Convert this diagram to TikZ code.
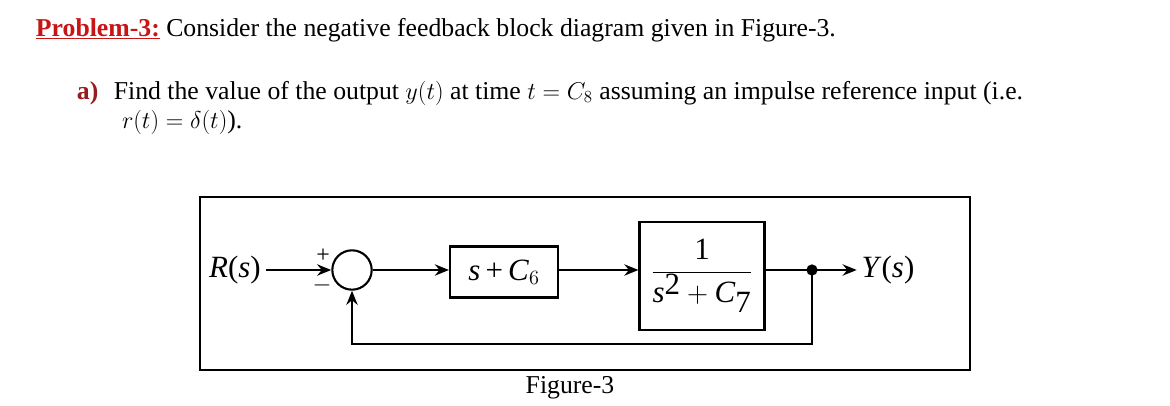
\documentclass[tikz,border=0pt]{standalone}
\usepackage{fontspec}
\setmainfont{Liberation Serif}
\usetikzlibrary{arrows.meta}
\definecolor{probred}{RGB}{200,20,20}
\definecolor{darkred}{RGB}{150,30,30}
\newcommand{\iv}[1]{\textit{#1}}
\begin{document}
\begin{tikzpicture}[x=0.025cm,y=-0.025cm,
  blk/.style={draw,line width=1.5pt,minimum width=#1},
  sig/.style={line width=2pt,-{Stealth[length=10pt,width=8pt]}},
  lab/.style={font=\fontsize{22}{24}\selectfont},
  txt/.style={font=\fontsize{18.3}{21}\selectfont,anchor=west}]
\useasboundingbox (0,0) rectangle (1170,406);
% text
\node[txt] (title) at (31,30) {\textcolor{probred}{\textbf{\underline{Problem-3:}}} Consider the negative feedback block diagram given in Figure-3.};
\node[txt,anchor=north west,text width=25.7cm,align=justify] (qa) at (72,76)
  {\textcolor{darkred}{\textbf{a)}}\hspace{0.6em}Find the value of the output $y(t)$ at time $t=C_8$ assuming an impulse reference input (i.e.\\ \hspace*{1.75em}$r(t)=\delta(t)$).};
% frame
\draw[line width=1.8pt] (200,197) rectangle (970,370);
% blocks
\node[lab] (R) at (235,270) {\iv{R}(\iv{s})};
\node[draw,circle,line width=1.5pt,minimum size=28pt,inner sep=0] (sum) at (352,270) {};
\node[blk=108*0.025cm,minimum height=51*0.025cm,lab] (G1) at (504,272) {\iv{s}\,+\,\iv{C}$_6$};
\node[blk=125*0.025cm,minimum height=108*0.025cm,lab] (G2) at (702,276) {$\displaystyle\frac{\textrm{1}}{\textit{s}^{\textrm{2}}+\textit{C}_{\textrm{7}}}$};
\coordinate (br) at (812,270);
\node[lab] (Y) at (888,270) {\iv{Y}(\iv{s})};
\coordinate (fb) at (812,344);
\fill (br) circle (4pt);
\draw[sig] (R) -- (sum);
\draw[sig] (sum) -- (G1.west |- sum);
\draw[sig] (G1.east |- sum) -- (G2.west |- sum);
\draw[line width=2pt] (G2.east |- sum) -- (br);
\draw[sig] (br) -- (Y);
\draw[sig] (br) -- (fb) -| (sum.south);
\node[font=\fontsize{17}{17}\selectfont] (plus) at (323,256) {+};
\node[font=\fontsize{17}{17}\selectfont] (minus) at (322,285) {$-$};
\node[txt,anchor=center] (cap) at (570,388) {Figure-3};
\end{tikzpicture}
\end{document}
